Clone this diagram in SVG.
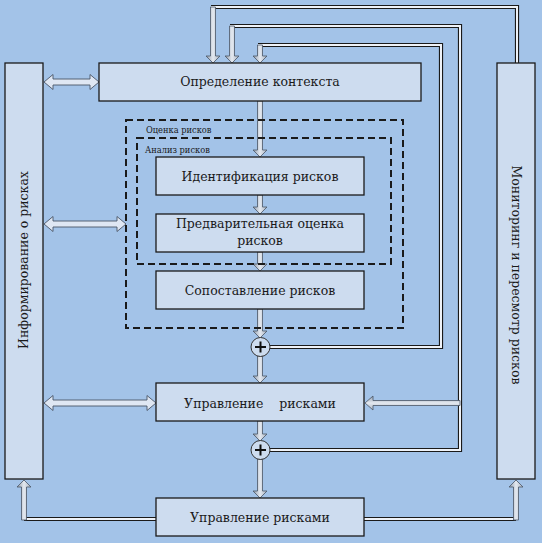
<svg xmlns="http://www.w3.org/2000/svg" width="542" height="543" viewBox="0 0 542 543">
<defs>
<linearGradient id="gv" x1="0" y1="0" x2="1" y2="0">
<stop offset="0" stop-color="#8e9aab"/><stop offset="0.5" stop-color="#e4e9f0"/><stop offset="1" stop-color="#a9b3c1"/>
</linearGradient>
<linearGradient id="gh" x1="0" y1="0" x2="0" y2="1">
<stop offset="0" stop-color="#8e9aab"/><stop offset="0.5" stop-color="#e4e9f0"/><stop offset="1" stop-color="#a9b3c1"/>
</linearGradient>
</defs>
<style>
.box{fill:#cddcef;stroke:#1a1a1a;stroke-width:1.3}
.t{font-family:"DejaVu Serif","Liberation Serif",serif;font-size:12.5px;fill:#1a1a1a;text-anchor:middle}
.s{font-family:"DejaVu Serif Condensed","DejaVu Serif",serif;font-size:9.2px;fill:#1a1a1a}
.dash{fill:none;stroke:#1a1a1a;stroke-width:2;stroke-dasharray:7 4}
.po{fill:none;stroke:#1a1a1a;stroke-width:4.2}
.pi{fill:none;stroke:#eef2f8;stroke-width:2}
.av{fill:url(#gv);stroke:#4a5566;stroke-width:0.8}
.ah{fill:url(#gh);stroke:#4a5566;stroke-width:0.8}
.dbl{fill:#dfe7f3;stroke:#4a5566;stroke-width:0.9}
.circ{fill:#cddcef;stroke:#333;stroke-width:1}
.plus{stroke:#111;stroke-width:2}
</style>
<rect x="0" y="0" width="542" height="543" fill="#a3c3e8"/>

<g id="connectors">
<path class="po" d="M211,7 H517 V63"/><path class="pi" d="M211,7 H517 V63"/>
<path class="po" d="M270,450 H460 V26 H230"/><path class="pi" d="M270,450 H460 V26 H230"/>
<path class="po" d="M270,347 H441 V45 H258"/><path class="pi" d="M270,347 H441 V45 H258"/>
<path class="po" d="M156,519 H24"/><path class="pi" d="M156,519 H24"/>
<path class="po" d="M364,519 H516"/><path class="pi" d="M364,519 H516"/>
<path class="av" d="M210.5,7 V56 H206 L213,63 L220,56 H215.5 V7 Z"/>
<path class="av" d="M229.5,26 V56 H225 L232,63 L239,56 H234.5 V26 Z"/>
<path class="av" d="M257.5,45 V56 H253 L260,63 L267,56 H262.5 V45 Z"/>
<path class="av" d="M257.5,101 V150 H253 L260,157 L267,150 H262.5 V101 Z"/>
<path class="av" d="M257.5,195 V207 H253 L260,214 L267,207 H262.5 V195 Z"/>
<path class="av" d="M257.5,252 V264 H253 L260,271 L267,264 H262.5 V252 Z"/>
<path class="av" d="M257.5,309 V331 H253 L260,338 L267,331 H262.5 V309 Z"/>
<path class="av" d="M257.5,356 V376 H253 L260,383 L267,376 H262.5 V356 Z"/>
<path class="av" d="M257.5,421 V434 H253 L260,441 L267,434 H262.5 V421 Z"/>
<path class="av" d="M257.5,459 V491 H253 L260,498 L267,491 H262.5 V459 Z"/>
<path class="av" d="M21.5,520 V487 H17 L24,480 L31,487 H26.5 V520 Z"/>
<path class="av" d="M513.5,520 V487 H509 L516,480 L523,487 H518.5 V520 Z"/>
<path class="ah" d="M460,400.5 H373 V396 L365,403 L373,410 V405.5 H460 Z"/>
<path class="dbl" d="M44,82 L53,74.5 V79 H90 V74.5 L99,82 L90,89.5 V85 H53 V89.5 Z"/>
<path class="dbl" d="M44,224 L53,216.5 V221 H117 V216.5 L126,224 L117,231.5 V227 H53 V231.5 Z"/>
<path class="dbl" d="M44,403 L53,395.5 V400 H147 V395.5 L156,403 L147,410.5 V406 H53 V410.5 Z"/>
</g>

<g id="n-assess"><rect class="dash" x="126" y="120" width="277" height="208"/><text class="s" x="146" y="133">Оценка рисков</text></g>
<g id="n-analysis"><rect class="dash" x="137" y="138" width="254" height="126"/><text class="s" x="145" y="153">Анализ рисков</text></g>

<g id="n-inform"><rect class="box" x="5" y="63" width="38" height="416"/><text class="t" transform="translate(28,260) rotate(-90)">Информирование о рисках</text></g>
<g id="n-monitor"><rect class="box" x="497" y="63" width="38" height="416"/><text class="t" transform="translate(511.5,275) rotate(90)">Мониторинг и пересмотр рисков</text></g>
<g id="n-context"><rect class="box" x="99" y="63" width="322" height="38"/><text class="t" x="260" y="86">Определение контекста</text></g>
<g id="n-ident"><rect class="box" x="156" y="157" width="208" height="38"/><text class="t" x="260" y="181">Идентификация рисков</text></g>
<g id="n-prelim"><rect class="box" x="156" y="214" width="208" height="38"/><text class="t" x="260" y="228">Предварительная оценка</text><text class="t" x="260" y="245">рисков</text></g>
<g id="n-compare"><rect class="box" x="156" y="271" width="208" height="38"/><text class="t" x="260" y="295">Сопоставление рисков</text></g>
<g id="n-sum1"><circle class="circ" cx="260.5" cy="347" r="9.5"/><path class="plus" d="M255,347 H266 M260.5,341.5 V352.5"/></g>
<g id="n-manage"><rect class="box" x="156" y="383" width="208" height="38"/><text class="t" x="260" y="408" style="white-space:pre">Управление    рисками</text></g>
<g id="n-sum2"><circle class="circ" cx="260.5" cy="450" r="9.5"/><path class="plus" d="M255,450 H266 M260.5,444.5 V455.5"/></g>
<g id="n-manage2"><rect class="box" x="156" y="498" width="208" height="38"/><text class="t" x="260" y="522">Управление рисками</text></g>
</svg>
